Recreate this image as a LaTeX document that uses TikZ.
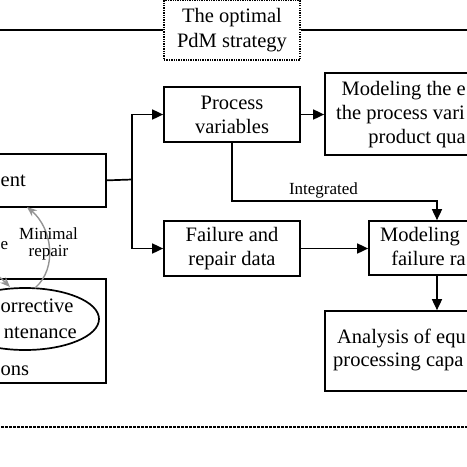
\documentclass[tikz,border=0pt]{standalone}
\usepackage{fontspec}
\setmainfont{Liberation Serif}
\usetikzlibrary{arrows.meta,shapes.geometric}
\tikzset{
  box/.style={draw, line width=1.7pt, inner sep=0pt},
  dotbox/.style={draw, line width=1.5pt, dash pattern=on 1.3pt off 1.1pt, inner sep=0pt},
  txt/.style={font=\fontsize{20.5}{24}\selectfont, align=center, inner sep=0pt},
  frag/.style={font=\fontsize{20.5}{24}\selectfont, inner sep=0pt},
  lbl/.style={font=\fontsize{17}{17.5}\selectfont, align=center, inner sep=0pt},
  conn/.style={line width=1.7pt},
  arr/.style={line width=1.7pt, -{Triangle[length=11pt,width=10pt]}},
  garr/.style={draw=black!42, line width=1.4pt, -{Stealth[length=10pt,width=8pt]}},
  dline/.style={line width=1.3pt, dash pattern=on 2.6pt off 1.4pt}
}
\begin{document}
\begin{tikzpicture}[x=1pt,y=-1pt]
\useasboundingbox (0,0) rectangle (467,467);
\clip (0,0) rectangle (467,467);
% top strategy box and line
\node[dotbox, txt, minimum width=136pt, minimum height=59.5pt, font=\fontsize{20.5}{25.5}\selectfont] (top) at (232,30.25) {The optimal\\PdM strategy};
\coordinate (tl) at (-3,30.25);
\coordinate (tr) at (470,30.25);
\draw[conn] (tl) -- (top.west);
\draw[conn] (top.east) -- (tr);
% left boxes
\node[box, minimum width=150pt, minimum height=53pt, anchor=north east] (eq) at (107,153) {};
\node[frag, anchor=base west] (eqt) at (0.5,186) {ent};
\node[box, minimum width=150pt, minimum height=104pt, anchor=north east] (act) at (107,278) {};
\node[draw, ellipse, line width=1.7pt, minimum width=148pt, minimum height=62pt, inner sep=0pt] (cm) at (25,319) {};
\node[frag, anchor=base west] (cm1) at (0.5,312) {orrective};
\node[frag, anchor=base east] (cm2) at (77,338) {ntenance};
\node[frag, anchor=base west] (actt) at (0.5,375) {ons};
% gray arrows
\coordinate (ms) at (35,288);
\coordinate (me) at (27,207);
\draw[garr] (ms) .. controls (58,268) and (52,228) .. (me);
\node[lbl] (mr) at (48.5,244) {Minimal\\repair};
\coordinate (gs) at (-8,274);
\coordinate (ge) at (10,287);
\draw[garr] (gs) .. controls (0,277) .. (ge);
\node[lbl, anchor=base west] (el) at (0.5,249) {e};
% middle column
\node[box, txt, minimum width=136pt, minimum height=55pt] (pv) at (232,114.5) {Process\\variables};
\node[box, txt, minimum width=136pt, minimum height=55pt] (fr) at (232,248.5) {Failure and\\repair data};
\coordinate (j) at (132,179.5);
\draw[conn] (eq.east) -- (j);
\draw[arr] (j) |- (pv.west);
\draw[arr] (j) |- (fr.west);
% right column
\node[box, minimum width=224pt, minimum height=82pt] (mq) at (437,114) {};
\node[frag, anchor=base east] (mq1) at (466,95) {Modeling the e};
\node[frag, anchor=base west] (mq2) at (336,119) {the process vari};
\node[frag, anchor=base east] (mq3) at (466,143) {product qua};
\node[box, minimum width=136pt, minimum height=54pt] (mf) at (437,248) {};
\node[frag, anchor=base west] (mf1) at (380,241) {Modeling};
\node[frag, anchor=base east] (mf2) at (466,265) {failure ra};
\node[box, minimum width=224pt, minimum height=80pt] (an) at (437,351) {};
\node[frag, anchor=base east] (an1) at (466,343.5) {Analysis of equ};
\node[frag, anchor=base west] (an2) at (333,366.5) {processing capa};
\draw[arr] (pv.east) -- (pv.east -| mq.west);
\draw[arr] (fr.east) -- (fr.east -| mf.west);
\coordinate (ic) at (437,201);
\draw[arr] (pv.south) |- (ic) -- (mf.north);
\node[lbl, anchor=base] (intl) at (323.5,194) {Integrated};
\draw[arr] (mf.south) -- (an.north);
% bottom dashed line
\coordinate (dl) at (-3,427);
\coordinate (dr) at (470,427);
\draw[dline] (dl) -- (dr);
\end{tikzpicture}
\end{document}
